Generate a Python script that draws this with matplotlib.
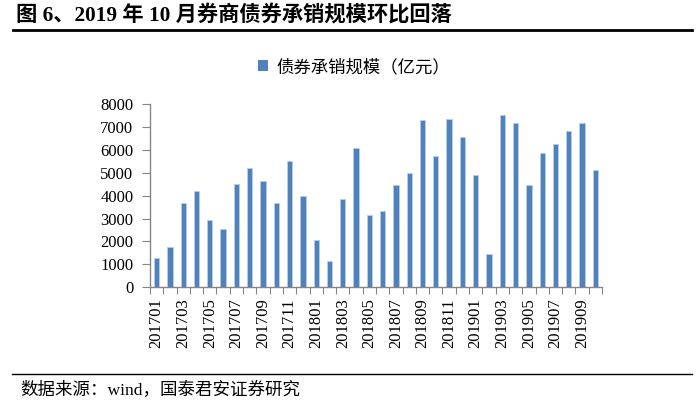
import matplotlib
matplotlib.use("Agg")
import matplotlib.pyplot as plt
from matplotlib.lines import Line2D
from matplotlib.patches import Patch

months = ["201701","201702","201703","201704","201705","201706","201707","201708",
          "201709","201710","201711","201712","201801","201802","201803","201804",
          "201805","201806","201807","201808","201809","201810","201811","201812",
          "201901","201902","201903","201904","201905","201906","201907","201908",
          "201909","201910"]
values = [1270, 1750, 3680, 4200, 2930, 2550, 4500, 5210,
          4630, 3680, 5510, 3990, 2070, 1150, 3860, 6100,
          3170, 3340, 4450, 4990, 7290, 5720, 7330, 6560,
          4900, 1470, 7510, 7160, 4450, 5850, 6240, 6820,
          7160, 5130]
yticks = [0, 1000, 2000, 3000, 4000, 5000, 6000, 7000, 8000]
series_name = "债券承销规模（亿元）"
title = "图 6、2019 年 10 月券商债券承销规模环比回落"
source = "数据来源：wind，国泰君安证券研究"

W, H = 698, 404
fig = plt.figure(figsize=(W/100, H/100), dpi=100)
serif_cjk = ["Liberation Serif", "Noto Sans CJK SC"]

ax = fig.add_axes([150/W, 1-287.3/H, (602-150)/W, (287.3-104)/H])
x = list(range(len(months)))
ax.bar(x, values, width=0.4, color="#4F81BD", edgecolor="#B9CDE5", linewidth=0.6)
ax.set_xlim(-0.5, len(months)-0.5)
ax.set_ylim(0, 8000)
ax.set_yticks(yticks)
ax.set_yticklabels([str(v) for v in yticks], fontsize=12, family="Liberation Serif")
ax.set_xticks([i - 0.5 for i in range(len(months)+1)])
ax.set_xticklabels([])
ax.set_xticks(x[::2], minor=True)
ax.set_xticklabels(months[::2], minor=True, rotation=90, fontsize=12, family="Liberation Serif")
ax.tick_params(axis="x", which="minor", length=0, pad=8)
ax.tick_params(axis="x", which="major", length=5, color="#868686", direction="out")
ax.tick_params(axis="y", length=6, color="#868686", direction="out", pad=6)
for s in ["top", "right"]:
    ax.spines[s].set_visible(False)
for s in ["left", "bottom"]:
    ax.spines[s].set_color("#868686")
    ax.spines[s].set_linewidth(1.0)

leg = fig.legend(handles=[Patch(facecolor="#4F81BD", edgecolor="none", label=series_name)],
                 loc="center", bbox_to_anchor=(354/W, 1-67/H), frameon=False,
                 prop={"family": "Noto Sans CJK SC", "size": 12.5},
                 handlelength=0.6, handleheight=0.6, handletextpad=0.5)

fig.text(16/W, 1-15/H, title, fontsize=15.3, fontweight="bold", family=serif_cjk,
         ha="left", va="center")
fig.add_artist(Line2D([13/W, 692/W], [1-29.5/H, 1-29.5/H], color="black", lw=2))
fig.add_artist(Line2D([12/W, 692/W], [1-374/H, 1-374/H], color="black", lw=1))
fig.text(20/W, 1-390/H, source, fontsize=12.6, family=serif_cjk, ha="left", va="center")

fig.savefig("out.png", dpi=100)
